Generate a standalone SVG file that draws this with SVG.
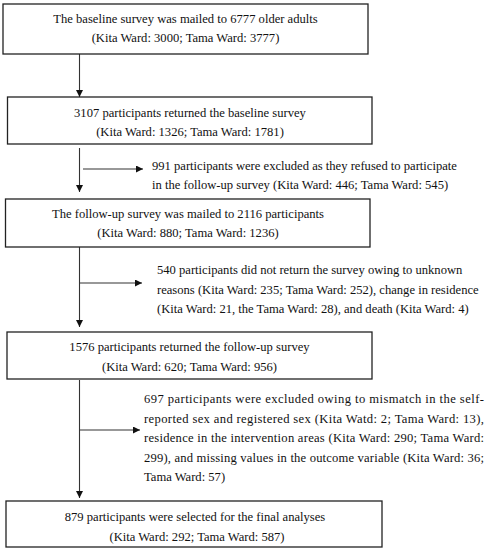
<svg xmlns="http://www.w3.org/2000/svg" width="491" height="550" viewBox="0 0 491 550">
<style>
.box{fill:#fff;stroke:#222;stroke-width:1.3}
text{font-family:"Liberation Serif","Times New Roman",serif;font-size:12.6px;fill:#111}
.c{text-anchor:middle}
.ln{stroke:#333;stroke-width:1.1;fill:none}
</style>
<defs>
<marker id="ah" viewBox="0 0 10 10" refX="10" refY="5" markerWidth="7" markerHeight="7" markerUnits="userSpaceOnUse" orient="auto">
<path d="M0,0 L10,5 L0,10 Z" fill="#111"/>
</marker>
</defs>
<rect width="491" height="550" fill="#fff"/>
<g id="connectors">
<line class="ln" x1="79.5" y1="54" x2="79.5" y2="97" marker-end="url(#ah)"/>
<line class="ln" x1="79.5" y1="148" x2="79.5" y2="192" marker-end="url(#ah)"/>
<line class="ln" x1="83" y1="169" x2="143" y2="169" marker-end="url(#ah)"/>
<line class="ln" x1="79.5" y1="247" x2="79.5" y2="327" marker-end="url(#ah)"/>
<line class="ln" x1="80" y1="283" x2="142" y2="283" marker-end="url(#ah)"/>
<line class="ln" x1="79.5" y1="380" x2="79.5" y2="498" marker-end="url(#ah)"/>
<line class="ln" x1="80" y1="430" x2="140" y2="430" marker-end="url(#ah)"/>
</g>
<g id="node1">
<rect class="box" x="3" y="4" width="365" height="50"/>
<text class="c" x="185.5" y="22.5">The baseline survey was mailed to 6777 older adults</text>
<text class="c" x="185.5" y="41.5">(Kita Ward: 3000; Tama Ward: 3777)</text>
</g>
<g id="node2">
<rect class="box" x="7.5" y="97" width="364.5" height="47"/>
<text class="c" x="190" y="116.5">3107 participants returned the baseline survey</text>
<text class="c" x="190" y="135.5">(Kita Ward: 1326; Tama Ward: 1781)</text>
</g>
<g id="excl1">
<text x="152" y="169.5">991 participants were excluded as they refused to participate</text>
<text x="152" y="188.5">in the follow-up survey (Kita Ward: 446; Tama Ward: 545)</text>
</g>
<g id="node3">
<rect class="box" x="5.5" y="199" width="364.5" height="48"/>
<text class="c" x="188" y="218">The follow-up survey was mailed to 2116 participants</text>
<text class="c" x="188" y="237">(Kita Ward: 880; Tama Ward: 1236)</text>
</g>
<g id="excl2">
<text x="157" y="274">540 participants did not return the survey owing to unknown</text>
<text x="157" y="293.5">reasons (Kita Ward: 235; Tama Ward: 252), change in residence</text>
<text x="157" y="313">(Kita Ward: 21, the Tama Ward: 28), and death (Kita Ward: 4)</text>
</g>
<g id="node4">
<rect class="box" x="7" y="332" width="365" height="47"/>
<text class="c" x="189.5" y="351">1576 participants returned the follow-up survey</text>
<text class="c" x="189.5" y="370.5">(Kita Ward: 620; Tama Ward: 956)</text>
</g>
<g id="excl3">
<text x="144" y="403" textLength="340">697 participants were excluded owing to mismatch in the self-</text>
<text x="144" y="422.5" textLength="340">reported sex and registered sex (Kita Watd: 2; Tama Ward: 13),</text>
<text x="144" y="442" textLength="340">residence in the intervention areas (Kita Ward: 290; Tama Ward:</text>
<text x="144" y="461.5" textLength="340">299), and missing values in the outcome variable (Kita Ward: 36;</text>
<text x="144" y="481">Tama Ward: 57)</text>
</g>
<g id="node5">
<rect class="box" x="6" y="501" width="376" height="46"/>
<text class="c" x="195" y="520.5">879 participants were selected for the final analyses</text>
<text class="c" x="197" y="541">(Kita Ward: 292; Tama Ward: 587)</text>
</g>
</svg>
